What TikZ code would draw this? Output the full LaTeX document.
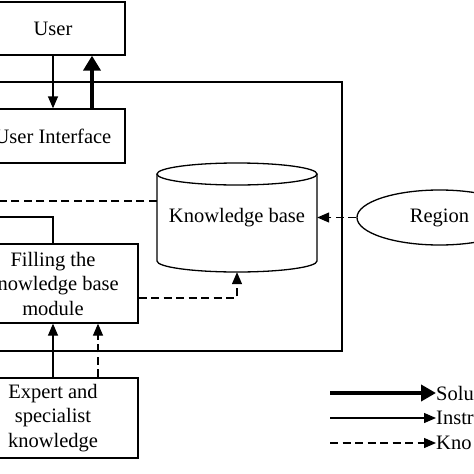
\documentclass[tikz,border=0pt]{standalone}
\usepackage{fontspec}
\setmainfont{Liberation Serif}
\usetikzlibrary{arrows.meta,shapes.geometric}
\begin{document}
\begin{tikzpicture}[x=1pt,y=-1pt,
  every node/.style={font=\fontsize{20.5pt}{24.5pt}\selectfont, inner sep=0pt},
  box/.style={draw, line width=1.3pt, align=center},
  ln/.style={line width=1.3pt},
  thinarrow/.style={ln, -{Triangle[length=12pt,width=10pt]}},
  thickarrow/.style={line width=4pt, -{Triangle[length=15pt,width=17pt]}},
  dashline/.style={ln, dash pattern=on 8pt off 4.5pt},
  dasharrow/.style={dashline, -{Triangle[length=12pt,width=10pt]}}]
\useasboundingbox (0,0) rectangle (474,474);
\fill[white] (0,0) rectangle (474,474);
\clip (0,0) rectangle (474,474);
% system frame
\node[draw, line width=1.3pt, minimum width=382pt, minimum height=269pt] (sys) at (151,216.5) {};
% boxes
\node[box, minimum width=144pt, minimum height=53pt] (user) at (53,28.5) {User};
\node[box, minimum width=144pt, minimum height=54pt] (ui) at (53,136) {User Interface};
\node[box, fill=white, minimum width=170pt, minimum height=79pt] (fill) at (53,283.5) {Filling the\\knowledge base\\module};
\node[box, minimum width=170pt, minimum height=80pt] (expert) at (53,418) {Expert and\\specialist\\knowledge};
% knowledge base cylinder
\node[minimum width=160pt, minimum height=109pt] (kb) at (237,217.5) {Knowledge base};
\draw[ln] (237,174) ellipse [x radius=80, y radius=11];
\draw[ln] (157,174) -- (157,261) arc[start angle=180, end angle=0, x radius=80, y radius=11] -- (317,174);
% region
\node[draw, ellipse, line width=1.3pt, minimum width=165pt, minimum height=55pt] (region) at (439.5,217.5) {Region};
% connectors
\coordinate (ie) at (-10,201);
\coordinate (src) at (-10,217);
\draw[thinarrow] (user.south) -- (ui.north);
\draw[thickarrow] ([xshift=39pt]ui.north) -- ([xshift=39pt]user.south);
\draw[dashline] (kb.west |- ie) -- (ie);
\draw[ln] (src) -| (fill.north);
\draw[thinarrow] (expert.north) -- (fill.south);
\draw[dasharrow] ([xshift=45pt]expert.north) -- ([xshift=45pt]fill.south);
\draw[dasharrow] ([yshift=-14.5pt]fill.east) -| (kb.south);
\draw[dasharrow] (region.west) -- (kb.east);
% legend
\coordinate (l1) at (330,393);
\coordinate (l2) at (330,418);
\coordinate (l3) at (330,443);
\node[anchor=west] (t1) at (436,393) {Solu};
\node[anchor=west] (t2) at (436,418) {Instr};
\node[anchor=west] (t3) at (436,443) {Kno};
\draw[line width=4.5pt, -{Triangle[length=15pt,width=16pt]}] (l1) -- (t1.west);
\draw[thinarrow] (l2) -- (t2.west);
\draw[dasharrow] (l3) -- (t3.west);
\end{tikzpicture}
\end{document}
